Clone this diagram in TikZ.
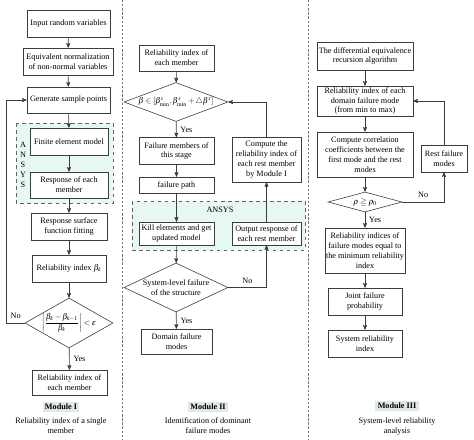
\documentclass[tikz,border=0pt]{standalone}
\usepackage{amsmath,amssymb}
\usepackage{mathptmx}
\usepackage{fontspec}
\setmainfont{Liberation Serif}
\usepackage{tikz}
\usetikzlibrary{arrows,shapes.geometric}
\usetikzlibrary{positioning}

\definecolor{ansysfill}{RGB}{230,247,244}
\definecolor{tagfill}{RGB}{224,232,232}
\definecolor{lineclr}{RGB}{60,60,60}

\tikzset{
    block/.style={
           rectangle,
           draw=lineclr, line width=0.5pt,
           fill=white,
           inner sep=1pt,
           align=center,
           },
    decision/.style={
           diamond,
           draw=lineclr, line width=0.5pt,
           fill=white,
           inner sep=0pt,
           },
    zone/.style={-, draw=lineclr!80, dashed, line width=0.6pt, fill=ansysfill},
    divider/.style={-, draw=lineclr!70, dash pattern=on 2pt off 1.5pt, line width=0.5pt},
    module/.style={fill=tagfill, font=\fontsize{7}{8.5}\selectfont\bfseries, inner sep=2pt},
}

\begin{document}
\begin{tikzpicture}[->,>=stealth',line width=0.5pt,draw=lineclr,
                    x=0.03cm,y=-0.03cm,font=\fontsize{7}{8.5}\selectfont]
  \useasboundingbox (0,0) rectangle (474,439);

  % column dividers and ANSYS zones
  \draw[divider] (122,0) -- (122,439);
  \draw[divider] (308,0) -- (308,439);
  \draw[zone] (16,123) rectangle (113,203);
  \draw[zone] (132,201) rectangle (305,250);

  % Module I
  \node[block, minimum width=2.49cm, minimum height=0.81cm] (input) at (68.5,23.5) {Input random variables};
  \node[block, minimum width=2.7cm,  minimum height=0.81cm] (norm)  at (68,61.5)   {Equivalent normalization\\of non-normal variables};
  \node[block, minimum width=2.49cm, minimum height=0.78cm] (gen)   at (68.5,100)  {Generate sample points};
  \node[block, minimum width=2.34cm, minimum height=0.81cm] (fem)   at (69,141.5)  {Finite element model};
  \node[block, minimum width=2.34cm, minimum height=0.78cm] (resp)  at (69,185)    {Response of each\\member};
  \node[block, minimum width=2.28cm, minimum height=0.81cm] (fit)   at (69,226.5)  {Response surface\\function fitting};
  \node[block, minimum width=2.22cm, minimum height=0.81cm] (betak) at (69,268.5)  {Reliability index $\beta_k$};
  \node[decision, minimum width=2.64cm, minimum height=1.5cm,
        label=center:{$\left|\dfrac{\beta_k-\beta_{k-1}}{\beta_k}\right|<\varepsilon$}] (conv) at (69,323) {};
  \node[block, minimum width=2.25cm, minimum height=0.75cm] (memb)  at (69.5,382.5) {Reliability index of\\each member};
  \node[align=center, inner sep=0pt] (ansysI) at (23,165) {A\\N\\S\\Y\\S};

  % Module II
  \node[block, minimum width=2.25cm, minimum height=0.78cm] (rie)   at (176.5,58)  {Reliability index of\\each member};
  \node[decision, minimum width=3.12cm, minimum height=1.17cm,
        label=center:{$\beta\in[\beta^{s}_{\min},\beta^{s}_{\min}+\triangle\beta^{s}]$}] (range) at (176,102) {};
  \node[block, minimum width=2.25cm, minimum height=0.81cm] (fail)  at (176.5,151) {Failure members of\\this stage};
  \node[block, minimum width=2.25cm, minimum height=0.48cm] (fpath) at (176.5,185) {failure path};
  \node[block, minimum width=2.25cm, minimum height=0.69cm] (kill)  at (176.5,233.5) {Kill elements and get\\updated model};
  \node[block, minimum width=2.07cm, minimum height=0.69cm] (outr)  at (266.5,233.5) {Output response of\\each rest member};
  \node[block, minimum width=2.07cm, minimum height=1.35cm] (comp)  at (266.5,159.5) {Compute the\\reliability index of\\each rest member\\by Module I};
  \node[decision, minimum width=3.12cm, minimum height=1.47cm,
        label={[align=center]center:System-level failure\\of the structure}] (sysf) at (176,287.5) {};
  \node[block, minimum width=2.13cm, minimum height=0.75cm] (dom)   at (176.5,341.5) {Domain failure\\modes};
  \node (ansysII) at (220,210) {ANSYS};

  % Module III
  \node[block, minimum width=2.88cm, minimum height=0.84cm] (diff)  at (365,56)    {The differential equivalence\\recursion algorithm};
  \node[block, minimum width=2.88cm, minimum height=0.9cm]  (rmode) at (365,101)   {Reliability index of each\\domain failure mode\\(from min to max)};
  \node[block, minimum width=2.88cm, minimum height=1.35cm] (corr)  at (365,154.5) {Compute correlation\\coefficients between the\\first mode and the rest\\modes};
  \node[decision, minimum width=2.22cm, minimum height=0.6cm,
        label=center:{$\rho\geqq\rho_0$}] (rho) at (365,202) {};
  \node[block, minimum width=2.22cm, minimum height=1.35cm] (equal) at (365,250.5) {Reliability indices of\\failure modes equal to\\the minimum reliability\\index};
  \node[block, minimum width=2.22cm, minimum height=0.81cm] (joint) at (365,301.5) {Joint failure\\probability};
  \node[block, minimum width=2.22cm, minimum height=0.81cm] (sysr)  at (365,343.5) {System reliability\\index};
  \node[block, minimum width=1.38cm, minimum height=0.81cm] (rest)  at (444,158.5) {Rest failure\\modes};

  % module captions
  \node[module] (tagI)   at (61,407)  {Module I};
  \node[module] (tagII)  at (208,407) {Module II};
  \node[module] (tagIII) at (397,406) {Module III};
  \node[align=center] (capI)   at (61,426)  {Reliability index of a single\\member};
  \node[align=center] (capII)  at (208,425.5) {Identification of dominant\\failure modes};
  \node[align=center] (capIII) at (397,427) {System-level reliability\\analysis};

  % connectors
  \draw (input) -- (norm);
  \draw (norm) -- (gen);
  \draw (gen) -- (fem);
  \draw (fem) -- (resp);
  \draw (resp) -- (fit);
  \draw (fit) -- (betak);
  \draw (betak) -- (conv);
  \draw (conv) -- node[right] {Yes} (memb);
  \draw (conv.west) -- node[above] {No} ++(-18,0) |- (gen.west);

  \draw (rie) -- (range);
  \draw (range) -- node[right] {Yes} (fail);
  \draw (fail) -- (fpath);
  \draw (fpath) -- (kill);
  \draw (kill) -- (sysf);
  \draw (sysf) -- node[right] {Yes} (dom);
  \draw (sysf.east) -- node[above] {No} (sysf.east -| outr.south) -- (outr.south);
  \draw (outr) -- (comp);
  \draw (comp.north) |- (range.east);

  \draw (diff) -- (rmode);
  \draw (rmode) -- (corr);
  \draw (corr) -- (rho);
  \draw (rho) -- node[right] {Yes} (equal);
  \draw (equal) -- (joint);
  \draw (joint) -- (sysr);
  \draw (rho.east) -- node[above] {No} (rho.east -| rest.south) -- (rest.south);
  \draw (rest.north) |- (rmode.east);
\end{tikzpicture}
\end{document}
